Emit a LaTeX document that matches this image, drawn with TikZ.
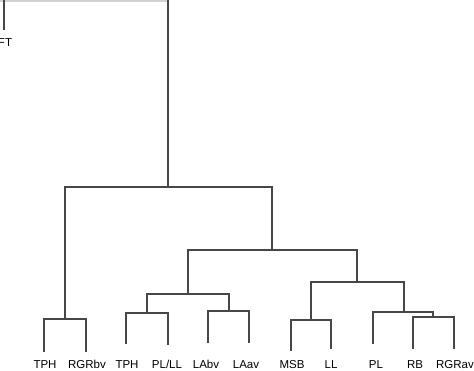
\documentclass[tikz,border=0pt]{standalone}
\usepackage{fontspec}
\setmainfont{Liberation Sans}
\begin{document}
\begin{tikzpicture}[x=1pt,y=-1pt,
  link/.style={draw=black!72, line width=1.2pt},
  faint/.style={draw=black!18, line width=1.3pt},
  lbl/.style={font=\fontsize{11.5}{13}\selectfont, text=black, inner sep=0pt, anchor=base}]
\useasboundingbox (0,0) rectangle (474,371);
% leaf ends
\coordinate (l1) at (44,352);
\coordinate (l2) at (86,352);
\coordinate (l3) at (126,344);
\coordinate (l4) at (168,345);
\coordinate (l5) at (208,343);
\coordinate (l6) at (249,343);
\coordinate (l7) at (291,351);
\coordinate (l8) at (331,349);
\coordinate (l9) at (373,344);
\coordinate (l10) at (413,349);
\coordinate (l11) at (454,349);
% junctions
\coordinate (A) at (65,319);
\coordinate (B) at (147,313);
\coordinate (C) at (229,311);
\coordinate (D) at (188,294);
\coordinate (E) at (311,320);
\coordinate (F) at (433,317);
\coordinate (G) at (404,312);
\coordinate (H) at (357,282);
\coordinate (I) at (272,250);
\coordinate (J) at (168,187);
\coordinate (top) at (168,0);
\coordinate (tl) at (0,1);
\coordinate (ft) at (4,0);
\coordinate (ftb) at (4,30);
% labels
\node[lbl] (t1) at (45,368) {TPH};
\node[lbl] (t2) at (87,368) {RGRbv};
\node[lbl] (t3) at (127,368) {TPH};
\node[lbl] (t4) at (167,368) {PL/LL};
\node[lbl] (t5) at (206,368) {LAbv};
\node[lbl] (t6) at (246,368) {LAav};
\node[lbl] (t7) at (292,368) {MSB};
\node[lbl] (t8) at (331,368) {LL};
\node[lbl] (t9) at (376,368) {PL};
\node[lbl] (t10) at (415,368) {RB};
\node[lbl] (t11) at (455,368) {RGRav};
\node[lbl] (tft) at (5,46.5) {FT};
% dendrogram
\draw[faint] (tl) -- (top |- tl);
\draw[link] (ft) -- (ftb);
\draw[link] (l1) |- (A) -| (l2);
\draw[link] (l3) |- (B) -| (l4);
\draw[link] (l5) |- (C) -| (l6);
\draw[link] (B) |- (D) -| (C);
\draw[link] (l7) |- (E) -| (l8);
\draw[link] (l10) |- (F) -| (l11);
\draw[link] (l9) |- (G) -| (F);
\draw[link] (E) |- (H) -| (G);
\draw[link] (D) |- (I) -| (H);
\draw[link] (A) |- (J) -| (I);
\draw[link] (J) -- (top);
\end{tikzpicture}
\end{document}
